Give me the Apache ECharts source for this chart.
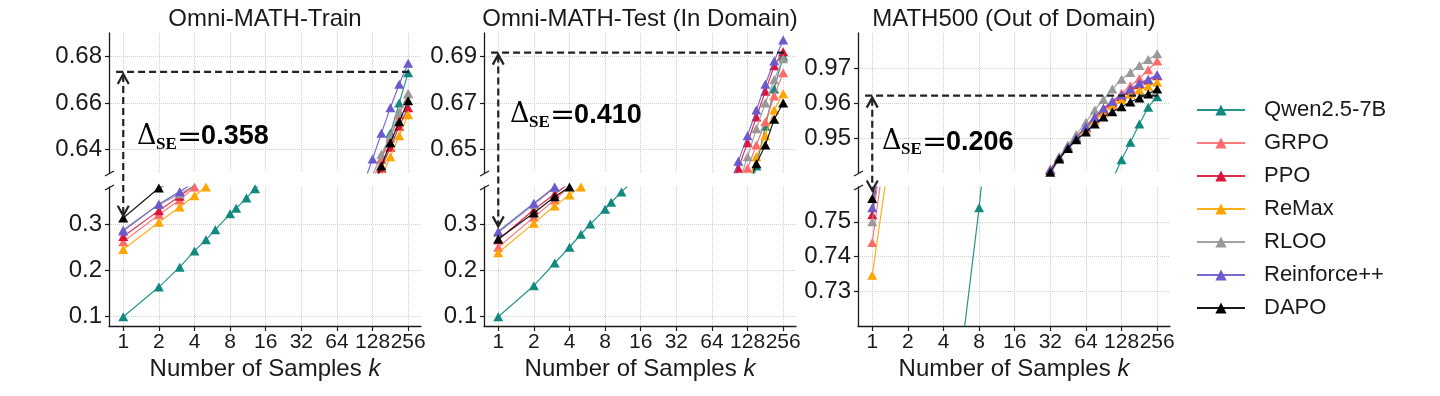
<!DOCTYPE html>
<html>
<head>
<meta charset="utf-8">
<title>Pass@k</title>
<script src="https://cdn.jsdelivr.net/npm/echarts@6/dist/echarts.min.js"></script>
<style>
  html, body { margin: 0; padding: 0; background: #fff; }
  #chart { width: 1440px; height: 396px; }
</style>
</head>
<body>
<div id="chart"></div>
<script>
'use strict';

// sampled k values
var K = [1, 2, 3, 4, 5, 6, 8, 9, 11, 13, 16, 19, 22, 26, 32, 38, 45, 53, 64, 76, 90, 107, 128, 152, 181, 215, 256];
var methods = ['Qwen2.5-7B', 'GRPO', 'PPO', 'ReMax', 'RLOO', 'Reinforce++', 'DAPO'];
var colors = ['#11897f', '#ff6b6b', '#dc143c', '#ffa500', '#999999', '#6a5acd', '#000000'];
var xTicks = [1, 2, 4, 8, 16, 32, 64, 128, 256];

/****** Omni-MATH-Train *****/
var trainQwen = [0.100, 0.164, 0.207, 0.242, 0.266, 0.288, 0.322, 0.334, 0.356, 0.376, 0.398, 0.417, 0.433, 0.452, 0.474, 0.492, 0.510, 0.528, 0.548, 0.565, 0.582, 0.599, 0.618, 0.636, 0.647, 0.660, 0.673];
var trainGRPO = [0.262, 0.320, 0.352, 0.380, 0.395, 0.408, 0.429, 0.437, 0.451, 0.463, 0.478, 0.490, 0.500, 0.512, 0.527, 0.539, 0.551, 0.563, 0.577, 0.589, 0.601, 0.614, 0.627, 0.636, 0.645, 0.655, 0.664];
var trainPPO = [0.273, 0.329, 0.360, 0.384, 0.398, 0.410, 0.430, 0.438, 0.451, 0.462, 0.476, 0.488, 0.498, 0.510, 0.524, 0.536, 0.548, 0.560, 0.573, 0.586, 0.598, 0.610, 0.623, 0.632, 0.641, 0.650, 0.658];
var trainReMax = [0.245, 0.304, 0.337, 0.361, 0.380, 0.393, 0.413, 0.421, 0.435, 0.447, 0.462, 0.475, 0.486, 0.498, 0.513, 0.526, 0.538, 0.551, 0.565, 0.578, 0.591, 0.604, 0.617, 0.628, 0.637, 0.646, 0.655];
var trainRLOO = [0.288, 0.342, 0.365, 0.383, 0.397, 0.409, 0.428, 0.436, 0.450, 0.462, 0.477, 0.490, 0.501, 0.514, 0.529, 0.541, 0.554, 0.567, 0.581, 0.594, 0.607, 0.619, 0.629, 0.638, 0.646, 0.656, 0.664];
var trainReinforce = [0.285, 0.343, 0.370, 0.390, 0.405, 0.418, 0.438, 0.446, 0.459, 0.471, 0.486, 0.499, 0.510, 0.523, 0.538, 0.551, 0.564, 0.577, 0.590, 0.603, 0.614, 0.625, 0.636, 0.647, 0.658, 0.668, 0.677];
var trainDAPO = [0.313, 0.378, 0.398, 0.414, 0.425, 0.435, 0.451, 0.458, 0.470, 0.481, 0.494, 0.506, 0.516, 0.527, 0.540, 0.551, 0.562, 0.573, 0.584, 0.595, 0.605, 0.615, 0.624, 0.633, 0.643, 0.652, 0.661];

/****** Omni-MATH-Test *****/
var testQwen = [0.100, 0.167, 0.216, 0.250, 0.278, 0.300, 0.332, 0.347, 0.369, 0.388, 0.410, 0.428, 0.444, 0.463, 0.484, 0.501, 0.518, 0.535, 0.555, 0.572, 0.590, 0.608, 0.626, 0.643, 0.660, 0.676, 0.690];
var testGRPO = [0.250, 0.315, 0.352, 0.381, 0.397, 0.410, 0.431, 0.440, 0.454, 0.466, 0.482, 0.495, 0.506, 0.519, 0.535, 0.548, 0.561, 0.574, 0.589, 0.602, 0.615, 0.628, 0.642, 0.652, 0.662, 0.673, 0.683];
var testPPO = [0.266, 0.331, 0.365, 0.388, 0.404, 0.417, 0.439, 0.447, 0.462, 0.475, 0.491, 0.504, 0.516, 0.530, 0.546, 0.559, 0.573, 0.587, 0.602, 0.615, 0.629, 0.642, 0.653, 0.664, 0.675, 0.686, 0.692];
var testReMax = [0.238, 0.302, 0.339, 0.363, 0.380, 0.394, 0.416, 0.425, 0.440, 0.453, 0.469, 0.483, 0.494, 0.508, 0.524, 0.537, 0.551, 0.565, 0.580, 0.594, 0.607, 0.621, 0.634, 0.647, 0.656, 0.667, 0.674];
var testRLOO = [0.282, 0.342, 0.379, 0.397, 0.411, 0.423, 0.443, 0.451, 0.464, 0.476, 0.491, 0.504, 0.515, 0.528, 0.543, 0.556, 0.569, 0.582, 0.597, 0.610, 0.622, 0.635, 0.647, 0.659, 0.670, 0.680, 0.689];
var testReinforce = [0.284, 0.345, 0.380, 0.399, 0.414, 0.427, 0.448, 0.456, 0.470, 0.482, 0.498, 0.511, 0.523, 0.536, 0.552, 0.565, 0.578, 0.592, 0.607, 0.620, 0.632, 0.645, 0.656, 0.667, 0.678, 0.688, 0.697];
var testDAPO = [0.268, 0.324, 0.359, 0.380, 0.396, 0.409, 0.430, 0.438, 0.453, 0.465, 0.480, 0.493, 0.504, 0.516, 0.532, 0.544, 0.557, 0.569, 0.584, 0.597, 0.609, 0.621, 0.633, 0.644, 0.652, 0.663, 0.670];

/****** MATH500 *****/
var mathQwen = [0.530, 0.598, 0.640, 0.672, 0.697, 0.719, 0.754, 0.771, 0.790, 0.805, 0.823, 0.838, 0.850, 0.863, 0.878, 0.889, 0.900, 0.910, 0.920, 0.927, 0.933, 0.938, 0.9438, 0.9488, 0.9540, 0.9588, 0.9618];
var mathGRPO = [0.744, 0.818, 0.852, 0.872, 0.884, 0.893, 0.903, 0.907, 0.914, 0.919, 0.925, 0.930, 0.934, 0.937, 0.9412, 0.9445, 0.9476, 0.9503, 0.9534, 0.9561, 0.9585, 0.9606, 0.9628, 0.9649, 0.9670, 0.9695, 0.9720];
var mathPPO = [0.752, 0.823, 0.855, 0.874, 0.886, 0.895, 0.905, 0.909, 0.916, 0.921, 0.927, 0.931, 0.934, 0.937, 0.9408, 0.9442, 0.9472, 0.9500, 0.9530, 0.9556, 0.9580, 0.9600, 0.9618, 0.9636, 0.9653, 0.9665, 0.9678];
var mathReMax = [0.7346, 0.806, 0.842, 0.864, 0.877, 0.887, 0.899, 0.904, 0.912, 0.918, 0.924, 0.929, 0.933, 0.936, 0.9410, 0.9445, 0.9475, 0.9500, 0.9525, 0.9550, 0.9572, 0.9592, 0.9609, 0.9625, 0.9637, 0.9648, 0.9659];
var mathRLOO = [0.750, 0.822, 0.855, 0.874, 0.886, 0.895, 0.905, 0.909, 0.916, 0.921, 0.927, 0.931, 0.934, 0.937, 0.9410, 0.9447, 0.9480, 0.9510, 0.9545, 0.9580, 0.9610, 0.9640, 0.9668, 0.9687, 0.9707, 0.9724, 0.9741];
var mathReinforce = [0.754, 0.824, 0.856, 0.875, 0.887, 0.896, 0.906, 0.910, 0.917, 0.922, 0.928, 0.932, 0.935, 0.938, 0.9409, 0.9443, 0.9474, 0.9501, 0.9532, 0.9559, 0.9585, 0.9605, 0.9623, 0.9640, 0.9657, 0.9668, 0.9681];
var mathDAPO = [0.7567, 0.820, 0.852, 0.870, 0.882, 0.891, 0.902, 0.907, 0.914, 0.919, 0.925, 0.929, 0.932, 0.935, 0.9402, 0.9440, 0.9470, 0.9495, 0.9517, 0.9540, 0.9560, 0.9575, 0.9589, 0.9603, 0.9614, 0.9626, 0.9640];

var FONT = "'Liberation Sans', Arial, sans-serif";
var INK = '#1a1a1a';

var panels = [
	{
		title: 'Omni-MATH-Train', left: 109,
		lines: [trainQwen, trainGRPO, trainPPO, trainReMax, trainRLOO, trainReinforce, trainDAPO],
		upper: [0.63, 0.69], upperTicks: [0.64, 0.66, 0.68],
		lower: [0.08, 0.38], lowerTicks: [0.1, 0.2, 0.3],
		delta: '0.358', deltaHigh: 0.6733, deltaLow: 0.318, textAt: [1.31, 0.6455]
	},
	{
		title: 'Omni-MATH-Test (In Domain)', left: 484,
		lines: [testQwen, testGRPO, testPPO, testReMax, testRLOO, testReinforce, testDAPO],
		upper: [0.64, 0.70], upperTicks: [0.65, 0.67, 0.69],
		lower: [0.08, 0.38], lowerTicks: [0.1, 0.2, 0.3],
		delta: '0.410', deltaHigh: 0.6916, deltaLow: 0.295, textAt: [1.26, 0.6647]
	},
	{
		title: 'MATH500 (Out of Domain)', left: 858,
		lines: [mathQwen, mathGRPO, mathPPO, mathReMax, mathRLOO, mathReinforce, mathDAPO],
		upper: [0.94, 0.98], upperTicks: [0.95, 0.96, 0.97],
		lower: [0.72, 0.76], lowerTicks: [0.73, 0.74, 0.75],
		delta: '0.206', deltaHigh: 0.9621, deltaLow: 0.759, textAt: [1.21, 0.9488]
	}
];

var PW = 312;
var UP = { top: 33, height: 140 };
var LO = { top: 187, height: 139 };
var xMin = Math.pow(2, -0.4), xMax = Math.pow(2, 8.36);
var dashFrom = 0.87, dashTo = 280;

var grids = [], xAxes = [], yAxes = [], series = [];

panels.forEach(function (p, i) {
	[0, 1].forEach(function (part) {
		var g = i * 2 + part;
		var isUp = part === 0;
		var box = isUp ? UP : LO;
		grids.push({ left: p.left, width: PW, top: box.top, height: box.height });
		xAxes.push({
			gridIndex: g,
			type: 'log',
			logBase: 2,
			min: xMin,
			max: xMax,
			axisLine: { show: !isUp, lineStyle: { color: INK, width: 1.3 } },
			axisTick: { show: !isUp, length: 5, customValues: xTicks, lineStyle: { color: INK, width: 1.2 } },
			axisLabel: { show: !isUp, customValues: xTicks, fontSize: 21, color: INK, margin: 6, fontFamily: FONT },
			splitLine: { show: true, lineStyle: { color: '#cfcfcf', type: 'dotted', width: 1 } },
			name: isUp ? '' : 'Number of Samples {i|k}',
			nameLocation: 'middle',
			nameGap: 31,
			nameTextStyle: {
				fontSize: 24, color: INK, fontFamily: FONT,
				rich: { i: { fontSize: 24, fontStyle: 'italic', color: INK, fontFamily: FONT } }
			}
		});
		yAxes.push({
			gridIndex: g,
			type: 'value',
			min: isUp ? p.upper[0] : p.lower[0],
			max: isUp ? p.upper[1] : p.lower[1],
			axisLine: { show: true, lineStyle: { color: INK, width: 1.3 } },
			axisTick: { show: true, length: 4, customValues: isUp ? p.upperTicks : p.lowerTicks, lineStyle: { color: INK, width: 1.2 } },
			axisLabel: { customValues: isUp ? p.upperTicks : p.lowerTicks, fontSize: 24, color: INK, margin: 7, fontFamily: FONT },
			splitLine: { show: true, lineStyle: { color: '#cfcfcf', type: 'dotted', width: 1 } }
		});
		p.lines.forEach(function (vals, m) {
			series.push({
				name: methods[m],
				type: 'line',
				xAxisIndex: g,
				yAxisIndex: g,
				data: K.map(function (k, j) { return [k, vals[j]]; }),
				symbol: 'triangle',
				symbolSize: [10, 9],
				showAllSymbol: true,
				clip: true,
				z: 2 + m,
				lineStyle: { width: 1.2, color: colors[m], opacity: 0.9 },
				itemStyle: { color: colors[m] },
				emphasis: { disabled: true }
			});
		});
	});
});

var option = {
	animation: false,
	backgroundColor: '#fff',
	color: colors,
	textStyle: { fontFamily: FONT },
	grid: grids,
	xAxis: xAxes,
	yAxis: yAxes,
	legend: {
		data: methods,
		orient: 'vertical',
		left: 1191,
		top: 94,
		itemWidth: 48,
		itemHeight: 14,
		itemGap: 11,
		lineStyle: { width: 2 },
		textStyle: { fontSize: 22, color: INK, fontFamily: FONT, padding: [0, 0, 0, 14] }
	},
	series: series
};

var chart = echarts.init(document.getElementById('chart'));
chart.setOption(option);

/****** titles, axis breaks and the Delta_SE annotations *****/
var gfx = [];
panels.forEach(function (p, i) {
	var up = { xAxisIndex: i * 2, yAxisIndex: i * 2 };
	var lo = { xAxisIndex: i * 2 + 1, yAxisIndex: i * 2 + 1 };
	var cx = p.left + PW / 2;

	gfx.push({
		type: 'text', x: cx, y: 19, z: 100,
		style: { text: p.title, font: '24px ' + FONT, fill: INK, align: 'center', verticalAlign: 'middle' }
	});

	// break marks on the left spine
	var yb1 = UP.top + UP.height, yb2 = LO.top;
	[yb1, yb2].forEach(function (yb) {
		gfx.push({
			type: 'line', z: 100,
			shape: { x1: p.left - 4, y1: yb + 3, x2: p.left + 5, y2: yb - 2 },
			style: { stroke: INK, lineWidth: 1.3 }
		});
	});

	var a = chart.convertToPixel(up, [dashFrom, p.deltaHigh]);
	var b = chart.convertToPixel(up, [dashTo, p.deltaHigh]);
	var t = chart.convertToPixel(up, [1, p.deltaHigh]);
	var d = chart.convertToPixel(lo, [1, p.deltaLow]);
	var dashStyle = { stroke: '#222', lineWidth: 2.2, lineDash: [7, 4] };
	gfx.push({ type: 'line', z: 90, shape: { x1: a[0], y1: a[1], x2: b[0], y2: b[1] }, style: dashStyle });
	var ty = t[1] + 2;
	gfx.push({ type: 'line', z: 90, shape: { x1: t[0], y1: ty + 1, x2: d[0], y2: d[1] - 1 }, style: dashStyle });
	gfx.push({
		type: 'polyline', z: 91,
		shape: { points: [[t[0] - 5.5, ty + 10], [t[0], ty], [t[0] + 5.5, ty + 10]] },
		style: { stroke: '#222', lineWidth: 2.2, fill: null, lineJoin: 'miter' }
	});
	gfx.push({
		type: 'polyline', z: 91,
		shape: { points: [[d[0] - 5.5, d[1] - 10], [d[0], d[1]], [d[0] + 5.5, d[1] - 10]] },
		style: { stroke: '#222', lineWidth: 2.2, fill: null, lineJoin: 'miter' }
	});

	var at = chart.convertToPixel(up, p.textAt);
	var tx = at[0], tyMid = at[1];
	gfx.push({ type: 'text', z: 100, x: tx, y: tyMid,
		style: { text: '\u0394', font: '27px "DejaVu Serif", serif', fill: '#000', verticalAlign: 'middle' } });
	gfx.push({ type: 'text', z: 100, x: tx + 19, y: tyMid + 7.5,
		style: { text: 'SE', font: 'bold 17px "Liberation Serif", serif', fill: '#000', verticalAlign: 'middle' } });
	gfx.push({ type: 'text', z: 100, x: tx + 40, y: tyMid + 1,
		style: { text: '=', font: '30px "DejaVu Serif", serif', fill: '#000', verticalAlign: 'middle' } });
	gfx.push({ type: 'text', z: 100, x: tx + 64, y: tyMid,
		style: { text: p.delta, font: 'bold 27px ' + FONT, fill: '#000', verticalAlign: 'middle' } });
});
chart.setOption({ graphic: gfx });
</script>
</body>
</html>
